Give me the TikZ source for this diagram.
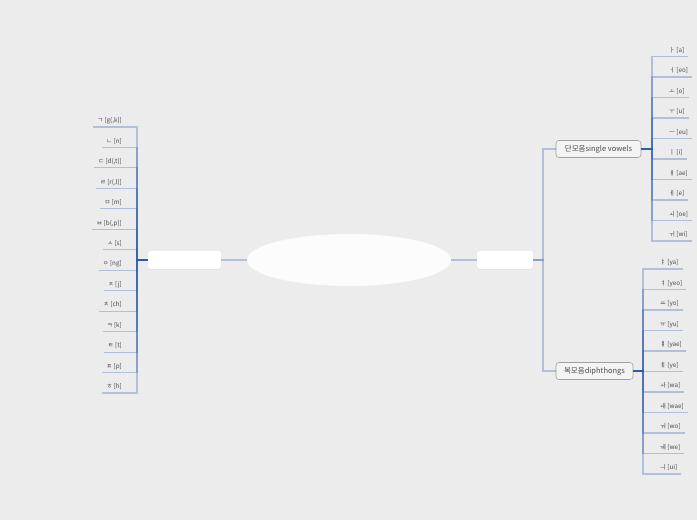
\documentclass[tikz,border=0pt]{standalone}
\usepackage{fontspec}
\setmainfont{Noto Sans CJK KR}
\usetikzlibrary{shapes.geometric,shadows}
\definecolor{bg}{HTML}{ECECEC}
\definecolor{lnk}{HTML}{2A5CAA}
\definecolor{txt}{HTML}{4A4A4A}
\definecolor{catfill}{HTML}{F4F4F4}
\definecolor{catdraw}{HTML}{A0A0A0}
\begin{document}
\begin{tikzpicture}[x=1pt,y=-1pt,
  conn/.style={draw=lnk, draw opacity=0.3, line width=1.1pt},
  leaf/.style={font=\fontsize{6.3}{7}\selectfont, text=txt, inner xsep=4pt, inner ysep=2.6pt, text depth=1.5pt, text height=4.5pt},
  whitebox/.style={fill=white, rounded corners=3pt, minimum height=18pt, inner sep=0pt,
    drop shadow={shadow xshift=0pt, shadow yshift=-0.8pt, opacity=0.12}},
  catbox/.style={fill=catfill, draw=catdraw, line width=0.6pt, rounded corners=3pt, minimum height=17pt,
    inner sep=0pt, font=\fontsize{7.5}{9}\selectfont, text=txt}]
\fill[bg] (0,0) rectangle (697,520);
\useasboundingbox (0,0) rectangle (697,520);

% main nodes
\node[ellipse, fill=white!98!gray, minimum width=204pt, minimum height=52pt, inner sep=0pt] (root) at (349,260) {};
\node[whitebox, minimum width=73pt] (ln) at (184.5,260) {};
\node[whitebox, minimum width=56pt] (rn) at (505,260) {};
\node[catbox, minimum width=85pt] (sv) at (598.5,149) {단모음single vowels};
\node[catbox, minimum width=77pt] (dp) at (594.5,371) {복모음diphthongs};

\draw[conn] (root.west) -- (ln.east);
\draw[conn] (root.east) -- (rn.west);
\draw[conn] (rn.east) -- (543,260) |- (sv.west);
\draw[conn] (rn.east) -- (543,260) |- (dp.west);

% consonants
\foreach \t [count=\i] in {{ㄱ [g(,k)]},{ㄴ [n]},{ㄷ [d(,t)]},{ㄹ [r(,l)]},{ㅁ [m]},{ㅂ [b(,p)]},{ㅅ [s]},{ㅇ [ng]},{ㅈ [j]},{ㅊ [ch]},{ㅋ [k]},{ㅌ [t]},{ㅍ [p]},{ㅎ [h]}}{
  \pgfmathsetmacro\yy{127+20.46*(\i-1)}
  \node[leaf, anchor=south east] (c\i) at (126,\yy) {\t};
  \draw[conn] (ln.west) -- (137,260) |- (c\i.south west);
}

% single vowels
\foreach \t [count=\i] in {{ㅏ [a]},{ㅓ [eo]},{ㅗ [o]},{ㅜ [u]},{ㅡ [eu]},{ㅣ [i]},{ㅐ [ae]},{ㅔ [e]},{ㅚ [oe]},{ㅟ [wi]}}{
  \pgfmathsetmacro\yy{56.5+20.5*(\i-1)}
  \node[leaf, anchor=south west] (v\i) at (665,\yy) {\t};
  \draw[conn] (sv.east) -- (652,149) |- (v\i.south east);
}

% diphthongs
\foreach \t [count=\i] in {{ㅑ [ya]},{ㅕ [yeo]},{ㅛ [yo]},{ㅠ [yu]},{ㅒ [yae]},{ㅖ [ye]},{ㅘ [wa]},{ㅙ [wae]},{ㅝ [wo]},{ㅞ [we]},{ㅢ [ui]}}{
  \pgfmathsetmacro\yy{269+20.5*(\i-1)}
  \node[leaf, anchor=south west] (d\i) at (656,\yy) {\t};
  \draw[conn] (dp.east) -- (643,371) |- (d\i.south east);
}
\end{tikzpicture}
\end{document}
